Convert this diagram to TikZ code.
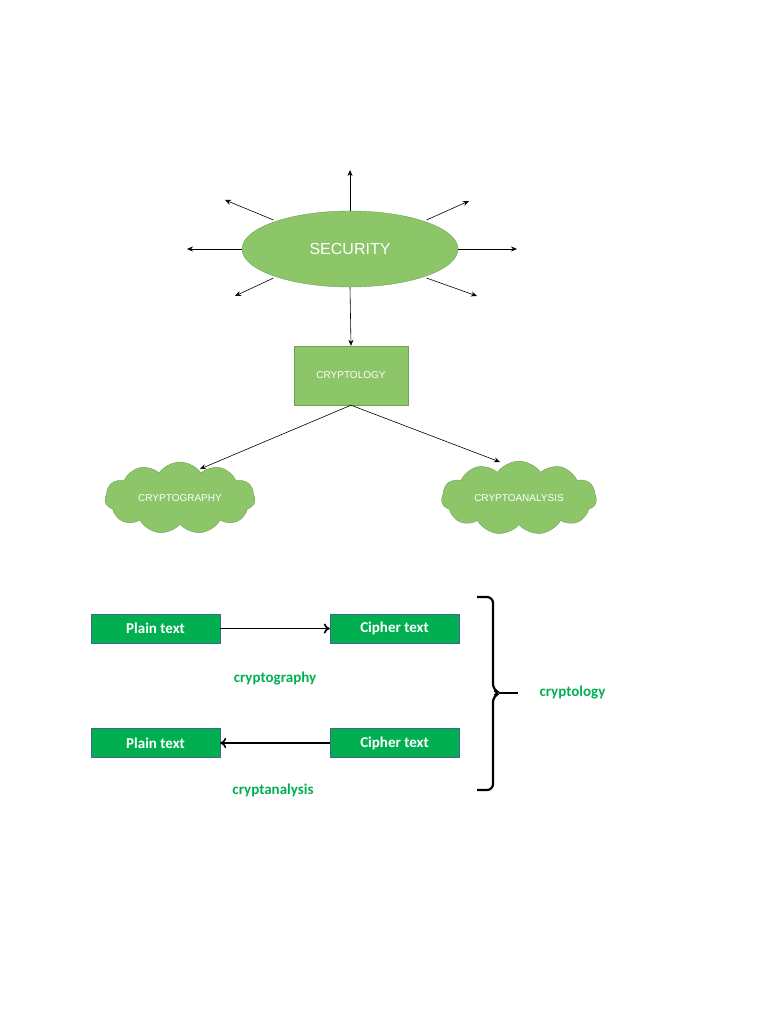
\documentclass[tikz,border=0pt]{standalone}
\usepackage{fontspec}
\setmainfont{Liberation Sans}
\newfontfamily\calib{Carlito}
\usetikzlibrary{shapes.geometric,shapes.symbols,arrows.meta,decorations.pathreplacing}
\definecolor{softgreen}{RGB}{140,198,105}
\definecolor{softedge}{RGB}{110,160,85}
\definecolor{boxgreen}{RGB}{0,176,80}
\definecolor{boxedge}{RGB}{70,100,140}
\tikzset{
  arr/.style={-{Stealth[length=6pt,width=5pt]}, line width=0.6pt},
  top/.style={fill=softgreen, text=white, draw=softedge},
  gbox/.style={draw=boxedge, fill=boxgreen, text=white, minimum width=129pt, minimum height=29pt, inner sep=0pt, font=\calib\fontsize{15}{15}\selectfont\bfseries},
  glabel/.style={text=boxgreen, font=\calib\fontsize{15}{15}\selectfont\bfseries},
  fat/.style={-{To[length=6pt,width=10pt]}, line width=1.6pt}
}
\begin{document}
\begin{tikzpicture}[x=1pt,y=-1pt]
\useasboundingbox (0,0) rectangle (768,1024);
% top part
\node[top, ellipse, minimum width=216pt, minimum height=76pt, font=\fontsize{16}{16}\selectfont] (sec) at (350,249) {SECURITY};
\coordinate (u) at (350,170);
\coordinate (l) at (187,249);
\coordinate (r) at (517,249);
\coordinate (ul) at (225,200);
\coordinate (ur) at (469,201);
\coordinate (dl) at (235,296);
\coordinate (dr) at (477,296);
\draw[arr] (sec.north) -- (u);
\draw[arr] (sec.west) -- (l);
\draw[arr] (sec.east) -- (r);
\draw[arr] (sec.north west) ++(0,-2) -- (ul);
\draw[arr] (sec.north east) ++(0,-2) -- (ur);
\draw[arr] (sec.south west) ++(0,2) -- (dl);
\draw[arr] (sec.south east) ++(0,2) -- (dr);
\node[top, rectangle, minimum width=114pt, minimum height=59pt, font=\fontsize{10}{10}\selectfont] (cpt) at (351,375.5) {CRYPTOLOGY};
\draw[arr] (sec.south) -- (cpt.north);
\node[top, cloud, cloud puffs=11, cloud puff arc=110, aspect=2.2, minimum width=150pt, minimum height=72pt, inner sep=0pt, font=\fontsize{10}{10}\selectfont] (cg) at (180,498) {CRYPTOGRAPHY};
\node[top, cloud, cloud puffs=11, cloud puff arc=110, aspect=2.2, minimum width=155pt, minimum height=72pt, inner sep=0pt, font=\fontsize{10}{10}\selectfont] (ca) at (519,498) {CRYPTOANALYSIS};
\draw[arr] (cpt.south) -- (200,469);
\draw[arr] (cpt.south) -- (500,462);
% bottom part
\node[gbox] (p1) at (155.5,628.5) {Plain text};
\node[gbox] (c1) at (394.5,628.5) {Cipher text};
\node[gbox] (p2) at (155.5,743) {Plain text};
\node[gbox] (c2) at (394.5,743) {Cipher text};
\draw[fat] (p1) -- (c1);
\draw[fat] (c2) -- (p2);
\node[glabel] (lg) at (275,679) {cryptography};
\node[glabel] (la) at (273,790) {cryptanalysis};
\coordinate (bt) at (477,597);
\coordinate (bb) at (477,790);
\draw[line width=2.2pt, rounded corners=6pt] (bt) -- (493,597) -- (493,690) -- (500,693) -- (493,696) -- (493,790) -- (bb);
\draw[line width=2.2pt] (499,693) -- (518,693);
\node[glabel, anchor=west] (lc) at (536,693) {cryptology};
\end{tikzpicture}
\end{document}
